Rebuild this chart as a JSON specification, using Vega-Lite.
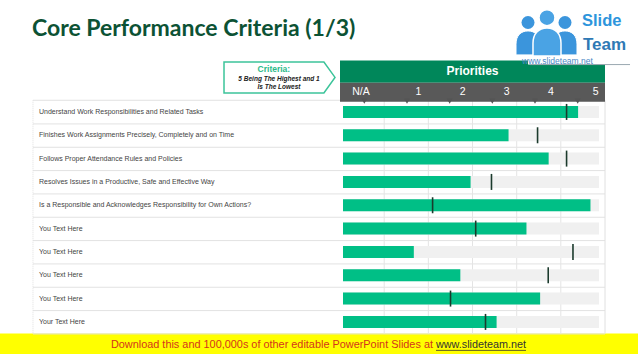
{
  "$schema": "https://vega.github.io/schema/vega-lite/v6.json",
  "width": 638,
  "height": 359,
  "padding": 0,
  "autosize": "none",
  "background": "#ffffff",
  "config": {"view": {"stroke": null}, "axis": {"disable": true}},
  "datasets": {
    "criteria": [
      {"row": 1, "criterion": "Understand Work Responsibilities and Related Tasks", "score": 5.51, "target": 5.24},
      {"row": 2, "criterion": "Finishes Work Assignments Precisely, Completely and on Time", "score": 3.88, "target": 4.56},
      {"row": 3, "criterion": "Follows Proper Attendance Rules and Policies", "score": 4.82, "target": 5.24},
      {"row": 4, "criterion": "Resolves Issues in a Productive, Safe and Effective Way", "score": 2.99, "target": 3.48},
      {"row": 5, "criterion": "Is a Responsible and Acknowledges Responsibility for Own Actions?", "score": 5.80, "target": 2.10},
      {"row": 6, "criterion": "You Text Here", "score": 4.30, "target": 3.11},
      {"row": 7, "criterion": "You Text Here", "score": 1.66, "target": 5.39},
      {"row": 8, "criterion": "You Text Here", "score": 2.75, "target": 4.81},
      {"row": 9, "criterion": "You Text Here", "score": 4.62, "target": 2.52},
      {"row": 10, "criterion": "Your Text Here", "score": 3.60, "target": 3.34}
    ]
  },
  "layer": [
    {"data": {"values": [{}]}, "mark": {"type": "rect", "color": "#ffff00"},
     "encoding": {
       "x": {"datum": -8.039, "type": "quantitative", "scale": {"domain": [-8.039, 6.914], "nice": false, "zero": false}},
       "x2": {"datum": 6.914},
       "y": {"datum": 10.5, "type": "quantitative", "scale": {"domain": [-3.5833, 11.375], "nice": false, "zero": false, "reverse": true}},
       "y2": {"datum": 11.375}}},

    {"data": {"name": "criteria"}, "mark": {"type": "rule", "color": "#e2e2e2", "strokeWidth": 1, "yOffset": 12},
     "encoding": {"x": {"datum": -7.2656}, "x2": {"datum": 6.1406}, "y": {"field": "row", "type": "quantitative"}}},
    {"data": {"values": [{}]}, "mark": {"type": "rule", "color": "#e2e2e2", "strokeWidth": 1},
     "encoding": {"x": {"datum": -7.2656}, "x2": {"datum": -0.0703}, "y": {"datum": 0.5}}},

    {"data": {"values": [{}]}, "mark": {"type": "rule", "color": "#e0e0e0", "strokeDash": [1, 1]},
     "encoding": {"x": {"datum": -7.2656}, "y": {"datum": 0.5}, "y2": {"datum": 10.5}}},
    {"data": {"values": [{}]}, "mark": {"type": "rule", "color": "#e4e4e4"},
     "encoding": {"x": {"datum": 0.966}, "y": {"datum": 0.5}, "y2": {"datum": 10.5}}},
    {"data": {"values": [{}]}, "mark": {"type": "rule", "color": "#e4e4e4"},
     "encoding": {"x": {"datum": 2.0}, "y": {"datum": 0.5}, "y2": {"datum": 10.5}}},
    {"data": {"values": [{}]}, "mark": {"type": "rule", "color": "#e4e4e4"},
     "encoding": {"x": {"datum": 3.035}, "y": {"datum": 0.5}, "y2": {"datum": 10.5}}},
    {"data": {"values": [{}]}, "mark": {"type": "rule", "color": "#e4e4e4"},
     "encoding": {"x": {"datum": 4.071}, "y": {"datum": 0.5}, "y2": {"datum": 10.5}}},
    {"data": {"values": [{}]}, "mark": {"type": "rule", "color": "#e4e4e4"},
     "encoding": {"x": {"datum": 5.105}, "y": {"datum": 0.5}, "y2": {"datum": 10.5}}},
    {"data": {"values": [{}]}, "mark": {"type": "rule", "color": "#e0e0e0"},
     "encoding": {"x": {"datum": 6.1406}, "y": {"datum": 0.5}, "y2": {"datum": 10.5}}},

    {"data": {"name": "criteria"}, "mark": {"type": "bar", "orient": "horizontal", "size": 12, "color": "#f0f0f0"},
     "encoding": {"x": {"datum": 0}, "x2": {"datum": 6}, "y": {"field": "row", "type": "quantitative"}}},
    {"data": {"name": "criteria"}, "mark": {"type": "bar", "orient": "horizontal", "size": 12, "color": "#00bf86"},
     "encoding": {"x": {"field": "score", "type": "quantitative"}, "x2": {"datum": 0}, "y": {"field": "row", "type": "quantitative"}}},
    {"data": {"name": "criteria"}, "mark": {"type": "point", "shape": "M0,-1L0,1", "size": 256, "filled": false, "stroke": "#1b3a2c", "strokeWidth": 1.6, "opacity": 1},
     "encoding": {"x": {"field": "target", "type": "quantitative"}, "y": {"field": "row", "type": "quantitative"}}},
    {"data": {"name": "criteria"}, "mark": {"type": "text", "font": "Liberation Sans", "fontSize": 7, "color": "#444444", "align": "left", "baseline": "middle"},
     "encoding": {"x": {"datum": -7.125}, "y": {"field": "row", "type": "quantitative"}, "text": {"field": "criterion"}}},

    {"data": {"values": [{}]}, "mark": {"type": "rect", "color": "#00875a"},
     "encoding": {"x": {"datum": -0.0703}, "x2": {"datum": 6.1406}, "y": {"datum": -1.2083}, "y2": {"datum": -0.25}}},
    {"data": {"values": [{}]}, "mark": {"type": "rect", "color": "#595959"},
     "encoding": {"x": {"datum": -0.0703}, "x2": {"datum": 6.1406}, "y": {"datum": -0.25}, "y2": {"datum": 0.5625}}},
    {"data": {"values": [{}]}, "mark": {"type": "text", "text": "Priorities", "font": "Liberation Sans", "fontSize": 12, "fontWeight": "bold", "color": "#ffffff", "align": "center", "baseline": "middle"},
     "encoding": {"x": {"datum": 3.035}, "y": {"datum": -0.75}}},
    {"data": {"values": [{}]}, "mark": {"type": "text", "text": "N/A", "font": "Liberation Sans", "fontSize": 10.5, "color": "#ffffff", "align": "center", "baseline": "middle"},
     "encoding": {"x": {"datum": 0.42}, "y": {"datum": 0.146}}},
    {"data": {"values": [{}]}, "mark": {"type": "text", "text": "1", "font": "Liberation Sans", "fontSize": 10.5, "color": "#ffffff", "align": "center", "baseline": "middle"},
     "encoding": {"x": {"datum": 1.765}, "y": {"datum": 0.146}}},
    {"data": {"values": [{}]}, "mark": {"type": "text", "text": "2", "font": "Liberation Sans", "fontSize": 10.5, "color": "#ffffff", "align": "center", "baseline": "middle"},
     "encoding": {"x": {"datum": 2.805}, "y": {"datum": 0.146}}},
    {"data": {"values": [{}]}, "mark": {"type": "text", "text": "3", "font": "Liberation Sans", "fontSize": 10.5, "color": "#ffffff", "align": "center", "baseline": "middle"},
     "encoding": {"x": {"datum": 3.837}, "y": {"datum": 0.146}}},
    {"data": {"values": [{}]}, "mark": {"type": "text", "text": "4", "font": "Liberation Sans", "fontSize": 10.5, "color": "#ffffff", "align": "center", "baseline": "middle"},
     "encoding": {"x": {"datum": 4.875}, "y": {"datum": 0.146}}},
    {"data": {"values": [{}]}, "mark": {"type": "text", "text": "5", "font": "Liberation Sans", "fontSize": 10.5, "color": "#ffffff", "align": "center", "baseline": "middle"},
     "encoding": {"x": {"datum": 5.922}, "y": {"datum": 0.146}}},

    {"data": {"values": [{}]}, "mark": {"type": "point", "shape": "triangle-down", "size": 36, "filled": true, "color": "#555555", "opacity": 1},
     "encoding": {"x": {"datum": 0.5}, "y": {"datum": 0.54}}},
    {"data": {"values": [{}]}, "mark": {"type": "point", "shape": "triangle-down", "size": 36, "filled": true, "color": "#555555", "opacity": 1},
     "encoding": {"x": {"datum": 1.5}, "y": {"datum": 0.54}}},
    {"data": {"values": [{}]}, "mark": {"type": "point", "shape": "triangle-down", "size": 36, "filled": true, "color": "#555555", "opacity": 1},
     "encoding": {"x": {"datum": 2.5}, "y": {"datum": 0.54}}},
    {"data": {"values": [{}]}, "mark": {"type": "point", "shape": "triangle-down", "size": 36, "filled": true, "color": "#555555", "opacity": 1},
     "encoding": {"x": {"datum": 3.5}, "y": {"datum": 0.54}}},
    {"data": {"values": [{}]}, "mark": {"type": "point", "shape": "triangle-down", "size": 36, "filled": true, "color": "#555555", "opacity": 1},
     "encoding": {"x": {"datum": 4.5}, "y": {"datum": 0.54}}},
    {"data": {"values": [{}]}, "mark": {"type": "point", "shape": "triangle-down", "size": 36, "filled": true, "color": "#555555", "opacity": 1},
     "encoding": {"x": {"datum": 5.5}, "y": {"datum": 0.54}}},

    {"data": {"values": [{}]}, "mark": {"type": "point", "shape": "M-1,-0.279L0.8,-0.279L1,0L0.8,0.279L-1,0.279Z", "size": 12321, "filled": false, "stroke": "#3cc49a", "strokeWidth": 1.5, "opacity": 1},
     "encoding": {"x": {"datum": -1.488}, "y": {"datum": -0.479}}},
    {"data": {"values": [{}]}, "mark": {"type": "text", "text": "Criteria:", "font": "Liberation Sans", "fontSize": 8.5, "fontWeight": "bold", "color": "#2dba8a", "align": "center", "baseline": "alphabetic"},
     "encoding": {"x": {"datum": -1.62}, "y": {"datum": -0.708}}},
    {"data": {"values": [{}]}, "mark": {"type": "text", "text": "5 Being The Highest and 1", "font": "Liberation Sans", "fontSize": 6.5, "fontWeight": "bold", "fontStyle": "italic", "color": "#222222", "align": "center", "baseline": "alphabetic"},
     "encoding": {"x": {"datum": -1.5}, "y": {"datum": -0.333}}},
    {"data": {"values": [{}]}, "mark": {"type": "text", "text": "Is The Lowest", "font": "Liberation Sans", "fontSize": 6.5, "fontWeight": "bold", "fontStyle": "italic", "color": "#222222", "align": "center", "baseline": "alphabetic"},
     "encoding": {"x": {"datum": -1.5}, "y": {"datum": 0.0}}},

    {"data": {"values": [{}]}, "mark": {"type": "text", "text": "Core Performance Criteria (1/3)", "font": "Lato", "fontSize": 23, "fontWeight": "bold", "color": "#0c5234", "align": "left", "baseline": "alphabetic"},
     "encoding": {"x": {"datum": -7.289}, "y": {"datum": -2.2625}}},

    {"data": {"values": [{}]}, "mark": {"type": "rect", "color": "#ffffff"},
     "encoding": {"x": {"datum": 4.336}, "x2": {"datum": 6.1406}, "y": {"datum": -1.417}, "y2": {"datum": -1.03}}},
    {"data": {"values": [{}]}, "mark": {"type": "rule", "color": "#9aa8b0", "strokeWidth": 1},
     "encoding": {"x": {"datum": 4.383}, "x2": {"datum": 6.727}, "y": {"datum": -1.03}}},
    {"data": {"values": [{}]}, "mark": {"type": "text", "text": "www.slideteam.net", "font": "Liberation Sans", "fontSize": 8.5, "color": "#4b88c6", "align": "left", "baseline": "alphabetic"},
     "encoding": {"x": {"datum": 4.195}, "y": {"datum": -1.06}}},

    {"data": {"values": [{}]}, "mark": {"type": "point", "shape": "M-1,1L-1,0.1C-1,-0.6 -0.6,-1 0,-1C0.6,-1 1,-0.6 1,0.1L1,1Z", "size": 576, "filled": true, "color": "#3b95dc", "stroke": "#ffffff", "strokeWidth": 1, "opacity": 1},
     "encoding": {"x": {"datum": 4.336}, "y": {"datum": -1.958}}},
    {"data": {"values": [{}]}, "mark": {"type": "point", "shape": "M-1,1L-1,0.1C-1,-0.6 -0.6,-1 0,-1C0.6,-1 1,-0.6 1,0.1L1,1Z", "size": 576, "filled": true, "color": "#3b95dc", "stroke": "#ffffff", "strokeWidth": 1, "opacity": 1},
     "encoding": {"x": {"datum": 5.203}, "y": {"datum": -1.958}}},
    {"data": {"values": [{}]}, "mark": {"type": "point", "shape": "M-1,1L-1,0.1C-1,-0.6 -0.6,-1 0,-1C0.6,-1 1,-0.6 1,0.1L1,1Z", "size": 784, "filled": true, "color": "#4aa3e4", "stroke": "#ffffff", "strokeWidth": 1.5, "opacity": 1},
     "encoding": {"x": {"datum": 4.781}, "y": {"datum": -2.0}}},
    {"data": {"values": [{}]}, "mark": {"type": "point", "shape": "circle", "size": 169, "filled": true, "color": "#3b95dc", "opacity": 1},
     "encoding": {"x": {"datum": 4.336}, "y": {"datum": -2.833}}},
    {"data": {"values": [{}]}, "mark": {"type": "point", "shape": "circle", "size": 169, "filled": true, "color": "#3b95dc", "opacity": 1},
     "encoding": {"x": {"datum": 5.203}, "y": {"datum": -2.833}}},
    {"data": {"values": [{}]}, "mark": {"type": "point", "shape": "circle", "size": 256, "filled": true, "color": "#4aa3e4", "stroke": "#ffffff", "strokeWidth": 1.5, "opacity": 1},
     "encoding": {"x": {"datum": 4.781}, "y": {"datum": -3.042}}},
    {"data": {"values": [{}]}, "mark": {"type": "text", "text": "Slide", "font": "Liberation Sans", "fontSize": 16.5, "fontWeight": "bold", "color": "#2d95dc", "align": "left", "baseline": "alphabetic"},
     "encoding": {"x": {"datum": 5.602}, "y": {"datum": -2.679}}},
    {"data": {"values": [{}]}, "mark": {"type": "text", "text": "Team", "font": "Liberation Sans", "fontSize": 17, "fontWeight": "bold", "color": "#2f79b5", "align": "left", "baseline": "alphabetic"},
     "encoding": {"x": {"datum": 5.625}, "y": {"datum": -1.646}}},

    {"data": {"values": [{}]}, "mark": {"type": "text", "text": "Download this and 100,000s of other editable PowerPoint Slides at", "font": "Liberation Sans", "fontSize": 10.9, "color": "#d4341c", "align": "right", "baseline": "middle"},
     "encoding": {"x": {"datum": 2.109}, "y": {"datum": 11.0}}},
    {"data": {"values": [{}]}, "mark": {"type": "text", "text": "www.slideteam.net", "font": "Liberation Sans", "fontSize": 10.8, "color": "#333333", "align": "left", "baseline": "middle"},
     "encoding": {"x": {"datum": 2.18}, "y": {"datum": 11.0}}},
    {"data": {"values": [{}]}, "mark": {"type": "rule", "color": "#333333", "strokeWidth": 0.8},
     "encoding": {"x": {"datum": 2.18}, "x2": {"datum": 4.289}, "y": {"datum": 11.22}}}
  ]
}
